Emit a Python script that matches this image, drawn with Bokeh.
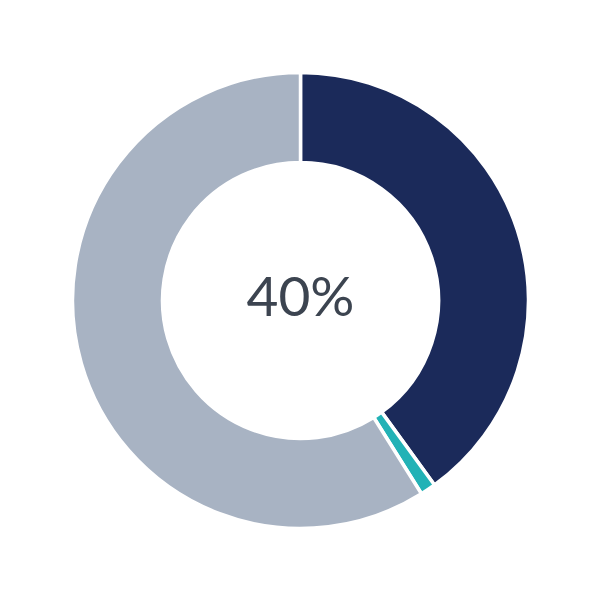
import math
from bokeh.plotting import figure
from bokeh.models import ColumnDataSource
from bokeh.core.properties import value
from bokeh.embed import file_html
from bokeh.resources import INLINE

categories = ["Navy", "Teal", "Grey"]
shares = [40, 1.1, 58.9]
colors = ["#1b2a5a", "#22b2b6", "#a8b3c3"]
center_label = "40%"

total = sum(shares)
starts, ends = [], []
acc = 0.0
for s in shares:
    a0 = math.pi / 2 - 2 * math.pi * acc / total
    acc += s
    a1 = math.pi / 2 - 2 * math.pi * acc / total
    starts.append(a0)
    ends.append(a1)

src = ColumnDataSource(dict(cat=categories, share=shares, start=starts, end=ends, color=colors))

p = figure(width=584, height=584, x_range=(-300, 284), y_range=(-284, 300),
           output_backend="svg", toolbar_location=None, min_border=0)
p.axis.visible = False
p.grid.visible = False
p.outline_line_color = None
p.background_fill_color = "white"

p.annular_wedge(x=0, y=0, inner_radius=138, outer_radius=228,
                start_angle="start", end_angle="end", direction="clock",
                fill_color="color", line_color="white", line_width=3.5, source=src)

p.text(x=[0], y=[6], text=[center_label], text_align="center", text_baseline="middle",
       text_font=value("Lato"), text_font_size="55px", text_color="#3c4450")

open("out.html", "w").write(file_html(p, INLINE))
